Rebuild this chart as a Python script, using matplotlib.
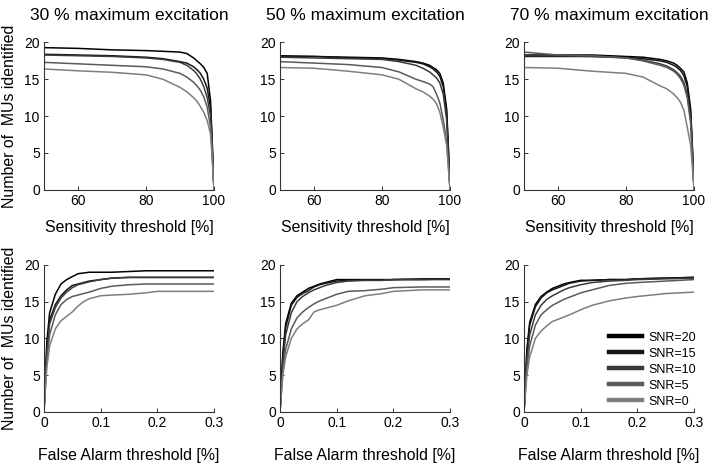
import matplotlib
matplotlib.use("Agg")
import matplotlib.pyplot as plt

plt.rcParams['font.family'] = ['Liberation Sans', 'DejaVu Sans']

snr_labels = ["SNR=20", "SNR=15", "SNR=10", "SNR=5", "SNR=0"]
colors = ["#000000", "#161616", "#3a3a3a", "#5a5a5a", "#7e7e7e"]
titles = ["30 % maximum excitation", "50 % maximum excitation", "70 % maximum excitation"]

# Top row: sensitivity threshold [%]
sens_x = [50, 60, 70, 80, 85, 90, 92, 94, 95, 96, 97, 98, 99, 99.5, 100]
sens_30 = [
    [19.3, 19.2, 19.0, 18.9, 18.8, 18.7, 18.5, 17.9, 17.5, 17.1, 16.6, 15.8, 12.0, 6.0, 0],
    [18.4, 18.3, 18.2, 18.0, 17.8, 17.4, 17.2, 16.7, 16.3, 15.8, 15.0, 13.8, 11.0, 6.0, 0],
    [18.3, 18.2, 18.1, 17.9, 17.7, 17.3, 16.9, 16.2, 15.7, 15.0, 14.0, 12.5, 10.0, 5.0, 0],
    [17.3, 17.1, 16.9, 16.7, 16.4, 15.8, 15.3, 14.6, 14.1, 13.5, 12.6, 11.2, 8.5, 4.5, 0],
    [16.4, 16.15, 15.95, 15.6, 15.0, 13.9, 13.3, 12.5, 12.0, 11.3, 10.5, 9.4, 7.5, 4.0, 0],
]
sens_50 = [
    [18.2, 18.1, 18.0, 17.9, 17.7, 17.4, 17.2, 16.9, 16.6, 16.3, 15.8, 14.5, 11.0, 6.0, 0],
    [18.1, 18.1, 17.9, 17.8, 17.6, 17.3, 17.1, 16.7, 16.4, 16.0, 15.4, 14.0, 10.5, 5.5, 0],
    [18.0, 17.9, 17.8, 17.7, 17.4, 16.9, 16.5, 16.0, 15.6, 15.2, 14.5, 13.0, 9.5, 5.0, 0],
    [17.4, 17.2, 17.0, 16.6, 16.0, 15.0, 14.7, 14.35, 14.0, 13.0, 11.8, 9.5, 6.5, 3.5, 0],
    [16.6, 16.5, 16.1, 15.6, 15.0, 13.7, 13.3, 12.7, 12.3, 11.7, 10.5, 8.5, 6.0, 3.0, 0],
]
sens_70 = [
    [18.3, 18.3, 18.3, 18.1, 18.0, 17.7, 17.5, 17.2, 16.9, 16.5, 16.0, 14.5, 11.0, 6.0, 0],
    [18.1, 18.1, 18.1, 18.0, 17.8, 17.5, 17.3, 16.9, 16.6, 16.2, 15.5, 14.0, 10.5, 5.5, 0],
    [18.2, 18.2, 18.1, 17.9, 17.6, 17.1, 16.8, 16.3, 15.9, 15.4, 14.6, 13.0, 9.5, 5.0, 0],
    [18.7, 18.3, 18.2, 17.9, 17.5, 16.9, 16.6, 16.1, 15.7, 15.1, 14.2, 12.5, 9.0, 4.5, 0],
    [16.6, 16.5, 16.1, 15.8, 15.3, 14.1, 13.7, 13.0, 12.5, 11.9, 10.8, 8.5, 6.0, 3.0, 0],
]

# Bottom row: false alarm threshold [%]
fa_x = [0, 0.005, 0.01, 0.02, 0.03, 0.04, 0.05, 0.06, 0.07, 0.08, 0.1, 0.12, 0.15, 0.18, 0.2, 0.25, 0.3]
fa_30 = [
    [0, 9.5, 13.5, 16.0, 17.4, 18.0, 18.4, 18.8, 18.9, 19.0, 19.0, 19.0, 19.1, 19.2, 19.2, 19.2, 19.2],
    [0, 8.5, 12.5, 14.6, 15.8, 16.6, 17.2, 17.4, 17.6, 17.8, 18.0, 18.2, 18.3, 18.3, 18.3, 18.3, 18.3],
    [0, 8.0, 12.0, 14.2, 15.5, 16.3, 16.9, 17.3, 17.5, 17.7, 18.0, 18.2, 18.3, 18.3, 18.3, 18.3, 18.3],
    [0, 7.0, 10.5, 13.2, 14.6, 15.3, 15.7, 15.9, 16.1, 16.3, 16.8, 17.1, 17.3, 17.4, 17.4, 17.4, 17.4],
    [0, 6.0, 9.0, 11.3, 12.4, 13.0, 13.6, 14.4, 15.0, 15.4, 15.8, 15.9, 16.0, 16.2, 16.4, 16.4, 16.4],
]
fa_50 = [
    [0, 8.0, 12.0, 14.8, 15.8, 16.3, 16.8, 17.1, 17.4, 17.6, 18.0, 18.0, 18.0, 18.0, 18.0, 18.1, 18.1],
    [0, 7.5, 11.5, 14.5, 15.6, 16.1, 16.5, 17.0, 17.3, 17.5, 17.8, 17.9, 17.9, 17.9, 18.0, 18.0, 18.1],
    [0, 6.5, 10.5, 13.5, 15.0, 15.7, 16.2, 16.6, 16.9, 17.2, 17.6, 17.8, 17.9, 17.9, 18.0, 18.0, 18.0],
    [0, 5.5, 8.5, 11.3, 12.8, 13.6, 14.2, 14.7, 15.1, 15.4, 16.0, 16.4, 16.5, 16.7, 16.9, 17.0, 17.0],
    [0, 5.0, 7.5, 10.0, 11.3, 12.0, 12.5, 13.6, 13.9, 14.1, 14.5, 15.1, 15.8, 16.1, 16.4, 16.6, 16.6],
]
fa_70 = [
    [0, 8.5, 12.2, 14.6, 15.7, 16.3, 16.8, 17.1, 17.4, 17.6, 17.9, 17.9, 18.0, 18.0, 18.1, 18.2, 18.3],
    [0, 8.0, 11.8, 14.3, 15.5, 16.2, 16.6, 16.9, 17.2, 17.5, 17.8, 17.9, 18.0, 18.0, 18.1, 18.2, 18.3],
    [0, 7.0, 10.5, 13.2, 14.5, 15.3, 15.8, 16.2, 16.6, 16.9, 17.3, 17.6, 17.8, 17.9, 18.0, 18.1, 18.2],
    [0, 6.0, 9.0, 11.8, 13.2, 13.9, 14.5, 14.9, 15.3, 15.6, 16.2, 16.6, 17.2, 17.5, 17.6, 17.8, 18.0],
    [0, 5.0, 7.5, 10.0, 11.0, 11.7, 12.3, 12.6, 12.9, 13.2, 13.9, 14.5, 15.1, 15.5, 15.7, 16.1, 16.3],
]

top_data = [sens_30, sens_50, sens_70]
bot_data = [fa_30, fa_50, fa_70]

fig = plt.figure(figsize=(7.22, 4.67), dpi=100)
lefts = [0.0609, 0.3878, 0.7258]
w = 0.2355
top_b, bot_b, h = 0.594, 0.1178, 0.315

def style(ax):
    for s in ("top", "right"):
        ax.spines[s].set_visible(False)
    for s in ("left", "bottom"):
        ax.spines[s].set_color("#333333")
        ax.spines[s].set_linewidth(0.8)
    ax.tick_params(direction="in", length=3, width=0.7, colors="#333333",
                   labelcolor="black", labelsize=10, pad=3)
    ax.set_ylim(0, 20)
    ax.set_yticks([0, 5, 10, 15, 20])

for i in range(3):
    ax = fig.add_axes([lefts[i], top_b, w, h])
    for j in range(5):
        ax.plot(sens_x, top_data[i][j], color=colors[j], lw=1.1)
    ax.set_xlim(50, 100)
    ax.set_xticks([60, 80, 100])
    style(ax)
    ax.set_title(titles[i], fontsize=12.5, pad=16)
    ax.set_xlabel("Sensitivity threshold [%]", fontsize=11.4, labelpad=9)
    if i == 0:
        ax.set_ylabel("Number of  MUs identified", fontsize=11.4, labelpad=5)

    ax2 = fig.add_axes([lefts[i], bot_b, w, h])
    for j in range(5):
        ax2.plot(fa_x, bot_data[i][j], color=colors[j], lw=1.1, label=snr_labels[j])
    ax2.set_xlim(0, 0.3)
    ax2.set_xticks([0, 0.1, 0.2, 0.3])
    ax2.set_xticklabels(["0", "0.1", "0.2", "0.3"])
    style(ax2)
    ax2.set_xlabel("False Alarm threshold [%]", fontsize=11.4, labelpad=13)
    if i == 0:
        ax2.set_ylabel("Number of  MUs identified", fontsize=11.4, labelpad=5)
    if i == 2:
        leg = ax2.legend(loc="lower right", bbox_to_anchor=(1.01, 0.03), frameon=False,
                         fontsize=9, handlelength=2.6, handletextpad=0.5,
                         labelspacing=0.32, borderpad=0, borderaxespad=0)
        for lh in leg.get_lines():
            lh.set_linewidth(3.2)

fig.savefig("out.png", dpi=100)
